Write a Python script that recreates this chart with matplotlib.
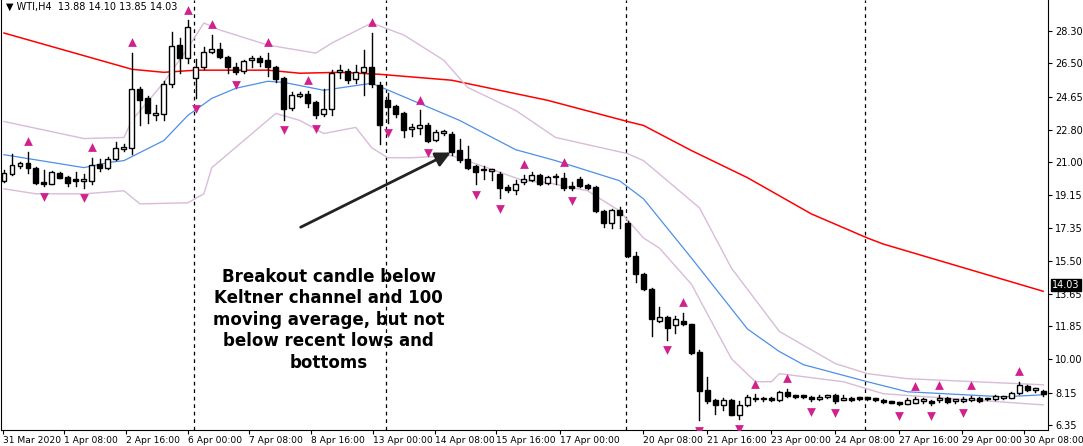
import matplotlib
matplotlib.use("Agg")
import matplotlib.pyplot as plt
from matplotlib.patches import Rectangle

# ---------------- data ----------------
opens = [19.96,20.35,20.80,20.97,20.69,19.90,19.79,20.41,20.18,20.00,19.97,19.96,20.91,20.69,21.19,21.75,21.80,25.05,24.55,23.62,
         23.65,25.33,27.52,26.79,25.67,26.28,27.12,27.30,26.84,26.28,26.06,26.68,26.79,26.68,26.28,25.67,24.00,24.70,24.77,24.32,
         23.65,23.93,26.03,26.06,25.61,26.00,26.28,25.28,24.44,24.10,23.71,22.85,22.87,23.04,22.25,22.63,22.59,21.69,21.19,20.80,
         20.55,20.50,20.35,19.62,19.45,19.90,20.02,20.30,19.85,20.16,20.13,19.59,20.07,19.73,19.62,18.28,17.60,18.33,17.60,15.76,
         14.75,13.91,12.17,12.34,11.90,12.17,11.95,10.44,8.31,7.75,7.47,7.75,6.91,7.47,7.78,7.78,7.85,7.75,8.20,7.92,
         7.92,7.92,7.80,7.92,8.00,7.75,7.85,7.80,7.82,7.77,7.75,7.62,7.60,7.53,7.60,7.70,7.70,7.74,7.85,7.68,
         7.70,7.75,7.85,7.78,7.78,7.88,7.88,8.15,8.50,8.30,8.25]
highs = [20.55,21.47,21.02,21.58,20.75,20.57,20.50,20.45,20.22,20.46,20.35,21.24,21.19,21.30,22.10,22.03,27.07,25.16,24.70,24.16,
         25.50,28.24,27.90,28.90,26.73,27.40,28.07,27.63,26.90,26.50,26.70,26.90,26.90,27.07,26.35,25.75,24.90,24.90,24.95,24.40,
         25.05,26.12,26.40,26.20,26.40,27.24,28.20,25.45,24.83,24.20,23.80,23.10,23.88,23.20,22.80,22.80,22.65,22.30,21.90,20.85,
         20.80,20.60,20.45,19.70,20.00,20.30,20.45,20.35,20.25,20.35,20.40,19.90,20.15,19.80,19.65,18.35,18.40,18.50,17.70,16.00,
         14.80,13.97,12.90,12.40,12.45,12.60,12.00,10.50,9.00,7.80,7.85,7.80,7.70,8.00,8.05,7.90,7.90,8.25,8.35,8.00,
         8.00,7.95,8.00,8.02,8.05,8.00,7.90,7.90,7.90,7.85,7.80,7.68,7.65,7.85,7.90,7.85,7.75,8.00,7.90,7.75,
         7.90,7.95,7.90,7.88,8.00,7.95,8.20,8.75,8.55,8.40,8.30]
lows = [19.90,20.29,20.69,20.41,19.79,19.68,19.75,20.10,19.68,19.68,19.57,19.79,20.52,20.60,21.10,21.60,21.47,23.04,23.20,23.37,
        23.37,25.20,25.95,26.50,24.55,26.20,27.07,26.79,25.95,25.90,25.95,26.30,26.34,25.78,25.45,23.37,23.90,24.60,24.05,23.45,
        23.54,23.60,25.67,25.40,25.40,24.72,25.20,22.00,23.20,23.50,22.37,22.45,22.59,22.10,22.15,22.50,21.40,21.00,20.60,19.79,
        20.05,20.00,19.00,19.35,19.20,19.80,19.95,19.70,19.75,19.78,19.45,19.45,19.60,19.50,18.20,17.40,17.30,17.30,15.70,14.30,
        13.85,11.28,12.10,11.11,11.50,11.90,10.30,6.63,7.60,6.95,7.20,6.91,6.70,7.40,7.70,7.70,7.70,7.70,7.90,7.85,
        7.85,7.70,7.75,7.85,7.60,7.72,7.70,7.75,7.75,7.70,7.55,7.55,7.45,7.50,7.55,7.60,7.45,7.65,7.60,7.60,
        7.62,7.70,7.65,7.72,7.75,7.80,7.85,8.10,8.25,8.20,7.98]
closes = [20.41,20.85,20.97,20.69,19.85,19.80,20.46,20.13,19.85,19.96,20.00,20.85,20.69,21.19,21.80,21.80,25.05,24.44,23.71,23.65,
          25.33,27.46,26.79,28.50,26.28,27.12,27.30,26.84,26.28,26.00,26.62,26.79,26.56,26.28,25.61,23.93,24.72,24.72,24.27,23.60,
          23.93,25.95,26.06,25.56,26.00,26.28,25.33,23.04,24.05,23.65,22.76,22.87,23.04,22.20,22.70,22.65,21.58,21.13,20.69,20.46,
          20.57,20.52,19.57,19.45,19.79,20.07,20.30,19.79,20.18,20.18,19.57,19.57,19.68,19.57,18.28,17.60,18.33,18.05,15.76,14.75,
          13.91,12.23,12.34,11.73,12.23,11.95,10.38,8.26,7.70,7.47,7.75,6.91,7.47,7.92,7.80,7.80,7.75,8.20,7.97,7.92,
          7.92,7.80,7.92,7.95,7.70,7.85,7.75,7.80,7.80,7.75,7.64,7.60,7.53,7.75,7.80,7.72,7.55,7.76,7.65,7.70,
          7.71,7.76,7.70,7.80,7.95,7.90,8.15,8.55,8.30,8.32,8.05]

ma100_idx = [0,16,20,24,33,37,42,47,56,68,78,80,86,93,101,108,110,130]
ma100_val = [28.19,26.17,26.00,26.12,26.12,25.95,26.00,25.89,25.56,24.44,23.26,23.04,21.64,20.13,18.11,16.77,16.43,13.80]

mid_idx = [0,10,13,15,20,23,26,29,33,35,40,46,49,57,64,69,77,80,86,93,97,100,108,113,125,130]
mid_val = [21.41,20.69,20.97,21.08,22.20,23.60,24.55,25.11,25.50,25.44,25.00,25.39,24.83,23.32,21.69,21.08,19.96,18.95,15.65,11.70,10.44,9.71,8.76,8.20,7.92,8.03]

up_idx = [0,10,15,16,20,23,25,27,33,39,41,46,50,55,58,64,69,78,80,87,91,97,104,108,113,130]
up_val = [23.26,22.31,22.37,23.32,25.44,27.35,28.75,28.36,27.52,27.07,27.63,28.75,28.08,26.68,25.16,23.88,22.37,21.47,21.08,18.45,15.09,11.56,9.77,9.21,8.93,8.59]

lo_idx = [0,4,10,15,17,23,25,26,30,34,37,40,44,46,48,51,56,59,65,68,73,77,80,82,86,91,94,96,97,105,110,130]
lo_val = [19.51,19.23,19.23,19.40,18.67,18.73,19.23,20.69,22.20,23.71,23.32,22.59,22.93,21.80,21.24,21.24,21.36,20.91,19.96,19.85,19.40,18.28,16.77,16.2,14.19,10.04,8.76,8.76,9.21,8.76,8.09,7.47]

frac_up = [3,11,16,23,26,33,38,46,52,65,70,85,94,98,114,117,121,127]
frac_dn = [5,10,24,29,35,39,48,53,59,62,71,83,87,92,101,104,112,116,120]

price_ticks = [28.30,26.50,24.65,22.80,21.00,19.15,17.35,15.50,13.65,11.85,10.00,8.15,6.35]
time_pos = [-0.1,7.5,15.25,23.0,30.6,38.4,46.1,53.9,61.6,69.6,79.9,87.9,95.9,103.9,111.9,119.9,127.6]
time_labels = ["31 Mar 2020","1 Apr 08:00","2 Apr 16:00","6 Apr 00:00","7 Apr 08:00","8 Apr 16:00",
               "13 Apr 00:00","14 Apr 08:00","15 Apr 16:00","17 Apr 00:00","20 Apr 08:00","21 Apr 16:00",
               "23 Apr 00:00","24 Apr 08:00","27 Apr 16:00","29 Apr 00:00","30 Apr 08:00"]
week_sep = [23.75,47.75,77.75,107.75]

# ---------------- figure ----------------
W, H = 1083, 446
fig = plt.figure(figsize=(W/100, H/100), dpi=100)
ax = fig.add_axes([1/W, 1-430/H, 1047/W, 430/H])
ax.set_xlim(-0.375, 130.6)
ax.set_ylim(6.07, 30.03)

for x in week_sep:
    ax.axvline(x, color="black", lw=0.9, ls=(0, (3, 3)), zorder=1)

ax.plot(ma100_idx, ma100_val, color="#ff0000", lw=1.1, zorder=2)
ax.plot(mid_idx, mid_val, color="#4d8fe8", lw=0.9, zorder=2)
ax.plot(up_idx, up_val, color="#d8bcd8", lw=1.0, zorder=2)
ax.plot(lo_idx, lo_val, color="#d8bcd8", lw=1.0, zorder=2)

bw = 0.62
for i, (o, h, l, c) in enumerate(zip(opens, highs, lows, closes)):
    ax.plot([i, i], [l, h], color="black", lw=1.0, zorder=3)
    bot = min(o, c)
    ht = max(abs(c - o), 0.09)
    fc = "white" if c > o else "black"
    ax.add_patch(Rectangle((i - bw/2, bot), bw, ht, facecolor=fc, edgecolor="black", lw=1.0, zorder=4))

mag = "#d0218f"
ax.scatter(frac_up, [highs[i] + 0.6 for i in frac_up], marker="^", s=40, color=mag, zorder=5, linewidths=0)
ax.scatter(frac_dn, [lows[i] - 0.6 for i in frac_dn], marker="v", s=40, color=mag, zorder=5, linewidths=0)

ax.spines["top"].set_visible(False)
ax.yaxis.tick_right()
ax.set_yticks(price_ticks)
ax.set_yticklabels([f"{v:.2f}" for v in price_ticks], fontsize=7)
ax.tick_params(axis="y", length=3, pad=2)
ax.set_xticks(time_pos)
ax.set_xticklabels(time_labels, fontsize=6.6, ha="left")
ax.tick_params(axis="x", length=3, pad=1)

ax.text(1.004, (14.03 - 6.07) / (30.03 - 6.07) + 0.005, "14.03", transform=ax.transAxes, fontsize=7,
        color="white", va="center", ha="left",
        bbox=dict(boxstyle="square,pad=0.15", fc="black", ec="black"))

fig.text(6/W, 1-7/H, "\u25BC WTI,H4  13.88 14.10 13.85 14.03", fontsize=7, va="center", ha="left")

ax.annotate("", xy=(56.2, 21.6), xytext=(36.8, 17.3),
            arrowprops=dict(arrowstyle="-|>,head_length=0.9,head_width=0.45", color="#222222", lw=2.0), zorder=6)
ax.text(40.6, 15.1, "Breakout candle below\nKeltner channel and 100\nmoving average, but not\nbelow recent lows and\nbottoms",
        fontsize=12, fontweight="bold", ha="center", va="top", linespacing=1.25, zorder=6)

fig.savefig("out.png", dpi=100)
